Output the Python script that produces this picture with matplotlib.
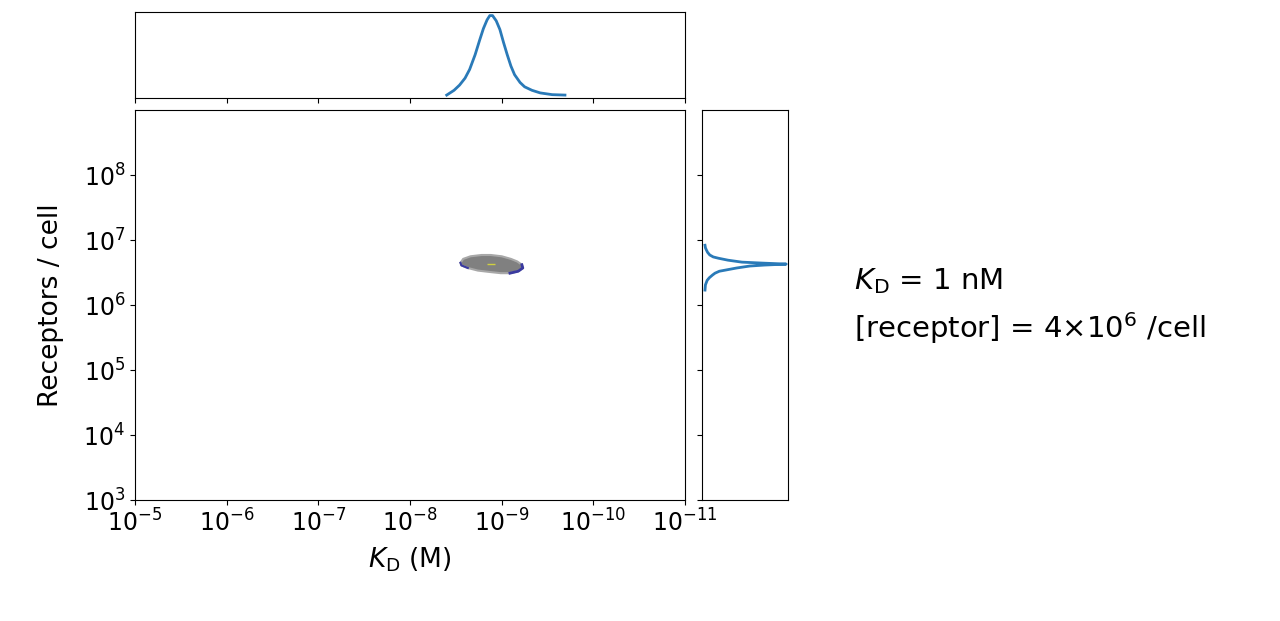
import numpy as np
import matplotlib.pyplot as plt

# marginal of K_D (top panel), log10 M and relative density
kd_log = [-8.40, -8.48, -8.54, -8.60, -8.65, -8.71, -8.76, -8.80, -8.84, -8.87, -8.90,
          -8.94, -8.98, -9.02, -9.06, -9.10, -9.14, -9.20, -9.25, -9.33, -9.42, -9.55, -9.69]
kd_dens = [0.035, 0.09, 0.15, 0.23, 0.33, 0.50, 0.67, 0.80, 0.90, 0.95, 0.95,
           0.89, 0.79, 0.64, 0.50, 0.37, 0.27, 0.18, 0.13, 0.09, 0.06, 0.04, 0.035]

# marginal of receptors/cell (right panel), log10 and relative density
rec_log = [6.92, 6.88, 6.85, 6.81, 6.77, 6.74, 6.72, 6.69, 6.66, 6.645, 6.63,
           6.615, 6.60, 6.57, 6.54, 6.52, 6.49, 6.46, 6.42, 6.38, 6.31, 6.23]
rec_dens = [0.035, 0.04, 0.05, 0.065, 0.09, 0.13, 0.19, 0.30, 0.46, 0.70, 0.97,
            0.72, 0.55, 0.40, 0.28, 0.20, 0.15, 0.12, 0.085, 0.06, 0.04, 0.035]

# outline of joint posterior region (log10 K_D, log10 receptors)
blob_kd = [-8.55, -8.58, -8.66, -8.78, -8.88, -9.00, -9.10, -9.17, -9.22, -9.23, -9.18,
           -9.09, -8.99, -8.86, -8.74, -8.63, -8.56, -8.55]
blob_rec = [6.65, 6.71, 6.75, 6.77, 6.77, 6.75, 6.71, 6.67, 6.62, 6.57, 6.52,
            6.49, 6.49, 6.51, 6.53, 6.57, 6.61, 6.65]

fig = plt.figure(figsize=(12.8, 6.21), dpi=100)
ax = fig.add_axes([0.1055, 0.1948, 0.4297, 0.628])
ax_top = fig.add_axes([0.1055, 0.842, 0.4297, 0.1385])
ax_right = fig.add_axes([0.5484, 0.1948, 0.0672, 0.628])

ax.fill(10.0 ** np.array(blob_kd), 10.0 ** np.array(blob_rec), color='#808080', ec='#a8a8a8', lw=1.5)
ax.plot(10.0 ** np.array(blob_kd[8:12]), 10.0 ** np.array(blob_rec[8:12]), color='#3a3aa0', lw=2)
ax.plot(10.0 ** np.array(blob_kd[15:18]), 10.0 ** np.array(blob_rec[15:18]), color='#3a3aa0', lw=1.5)
ax.plot([10 ** -8.88], [10 ** 6.63], marker='_', color='#d0d040', ms=6)
ax.set_xscale('log')
ax.set_yscale('log')
ax.set_xlim(1e-5, 1e-11)
ax.set_ylim(1e3, 1e9)
ax.set_xticks([10.0 ** -k for k in range(5, 12)])
ax.set_xticklabels(['$\\mathregular{10^{-%d}}$' % k for k in range(5, 12)])
ax.set_yticks([10.0 ** k for k in range(3, 9)])
ax.set_yticklabels(['$\\mathregular{10^{%d}}$' % k for k in range(3, 9)])
ax.minorticks_off()
ax.tick_params(labelsize=17)
ax.set_xlabel('$K_\\mathrm{D}$ (M)', fontsize=19, labelpad=6)
ax.set_ylabel('Receptors / cell', fontsize=19, labelpad=14)

ax_top.plot(10.0 ** np.array(kd_log), kd_dens, color='#2a7ab8', lw=2)
ax_top.set_xscale('log')
ax_top.set_xlim(1e-5, 1e-11)
ax_top.set_ylim(0, 0.99)
ax_top.set_xticks([10.0 ** -k for k in range(5, 12)])
ax_top.minorticks_off()
ax_top.set_xticklabels([])
ax_top.set_yticks([])

ax_right.plot(rec_dens, 10.0 ** np.array(rec_log), color='#2a7ab8', lw=2)
ax_right.set_yscale('log')
ax_right.set_ylim(1e3, 1e9)
ax_right.set_xlim(0, 0.99)
ax_right.set_yticks([10.0 ** k for k in range(3, 9)])
ax_right.minorticks_off()
ax_right.set_yticklabels([])
ax_right.set_xticks([])

fig.text(0.667, 0.535, '$K_\\mathrm{D}$ = 1 nM', fontsize=21)
fig.text(0.667, 0.455, '[receptor] = 4×10$^{6}$ /cell', fontsize=21)

fig.savefig('out.png', dpi=100)
